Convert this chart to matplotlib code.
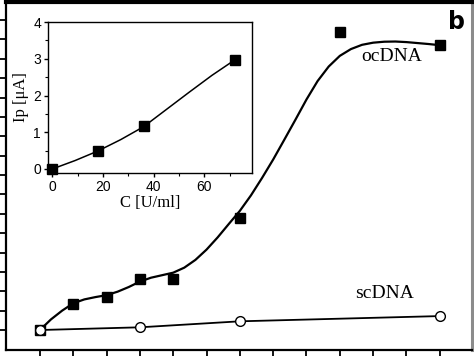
import numpy as np
import matplotlib
matplotlib.use('Agg')
import matplotlib.pyplot as plt

# 主图数据 (C [U/ml])
oc_x = [0, 6, 12, 18, 24, 36, 54, 72]
oc_y = [0, 1.34, 1.69, 2.62, 2.62, 5.80, 15.37, 14.70]
sc_x = [0, 18, 36, 72]
sc_y = [0, 0.14, 0.45, 0.72]

# 拟合曲线 (从图上读取, 每2个单位一个点)
fit_x = list(range(0, 73, 2))
fit_y = [0, 0.55, 1.00, 1.38, 1.58, 1.70, 1.80, 1.98, 2.22, 2.50, 2.70, 2.83, 2.96,
         3.22, 3.62, 4.15, 4.78, 5.47, 6.15, 6.95, 7.85, 8.80, 9.82, 10.85, 11.90,
         12.85, 13.60, 14.15, 14.50, 14.72, 14.83, 14.88, 14.89, 14.86, 14.81, 14.76, 14.70]

# 插图数据
in_x = [0, 18, 36, 72]
in_y = [0, 0.50, 1.16, 2.97]
in_fit_x = [0, 9, 18, 27, 36, 45, 54, 63, 72]
in_fit_y = [0, 0.23, 0.49, 0.80, 1.15, 1.62, 2.09, 2.55, 2.97]

fig = plt.figure(figsize=(4.74, 3.56), dpi=100)
ax = fig.add_axes([0.0127, 0.0169, 0.9831, 0.9775])

ax.plot(fit_x, fit_y, color='black', lw=1.6, zorder=2)
ax.plot(sc_x, sc_y, color='black', lw=1.3, zorder=2)
ax.plot(oc_x, oc_y, 's', color='black', ms=6.5, zorder=3)
ax.plot(sc_x, sc_y, 'o', mfc='white', mec='black', mew=1.0, ms=7, zorder=4)

ax.set_xlim(-6.1, 77.8)
ax.set_ylim(-1.03, 16.93)
ax.set_xticks(np.arange(0, 73, 6))
ax.set_yticks(np.arange(0, 17, 1))
ax.tick_params(direction='out', length=5, width=1.3, labelbottom=False, labelleft=False)
ax.spines['left'].set_linewidth(1.6)
ax.spines['bottom'].set_linewidth(1.6)
ax.spines['top'].set_linewidth(3)
ax.spines['right'].set_linewidth(2.2)
ax.spines['right'].set_color('#8c8c8c')

ax.text(63.3, 14.1, 'ocDNA', family='Liberation Serif', fontsize=14, ha='center', va='center')
ax.text(62.0, 1.90, 'scDNA', family='Liberation Serif', fontsize=14, ha='center', va='center')
ax.text(75.0, 15.9, 'b', family='DejaVu Sans', fontweight='bold', fontsize=17, ha='center', va='center')

# 插图
ins = fig.add_axes([0.1013, 0.514, 0.4304, 0.424])
ins.plot(in_fit_x, in_fit_y, color='black', lw=1.1)
ins.plot(in_x, in_y, 's', color='black', ms=6.5, clip_on=False)
ins.set_xlim(-1.7, 78.8)
ins.set_ylim(-0.11, 4)
ins.set_xticks([0, 20, 40, 60])
ins.set_xticks([10, 30, 50, 70], minor=True)
ins.set_yticks([0, 1, 2, 3, 4])
ins.set_yticks([0.5, 1.5, 2.5, 3.5], minor=True)
ins.tick_params(which='major', direction='out', length=3, width=1.0, pad=2, labelsize=10)
ins.tick_params(which='minor', direction='out', length=2, width=0.8)
for lab in ins.get_xticklabels() + ins.get_yticklabels():
    lab.set_family('Liberation Sans')
for s in ins.spines.values():
    s.set_linewidth(1.0)
ins.set_xlabel('C [U/ml]', family='Liberation Serif', fontsize=12, labelpad=1)
ins.set_ylabel('Ip [\u03bcA]', family='Liberation Serif', fontsize=12, labelpad=3)

plt.savefig('out.png', dpi=100)
